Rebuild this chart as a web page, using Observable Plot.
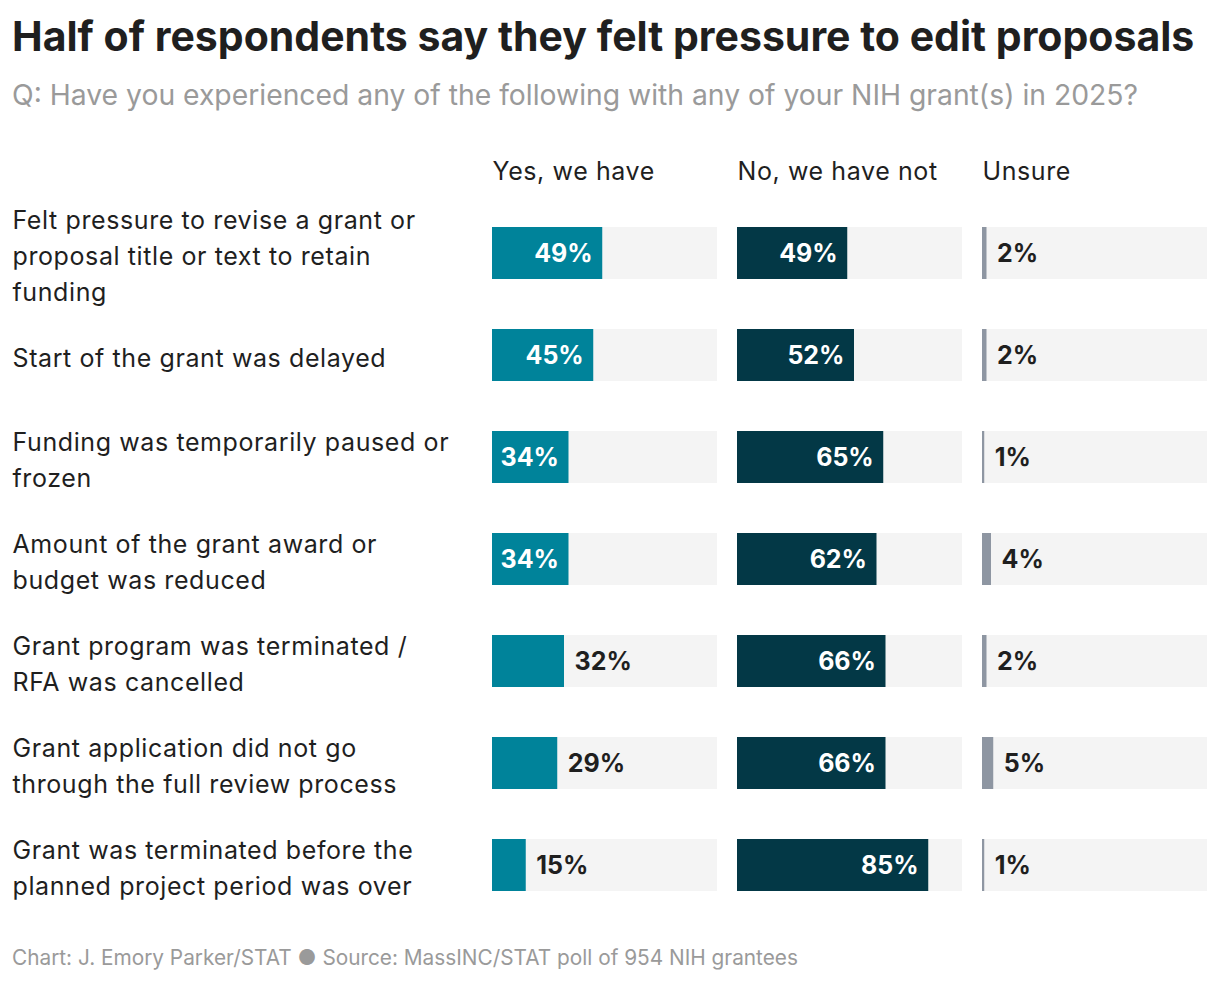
<!DOCTYPE html>
<html>
<head>
<meta charset="utf-8">
<script src="https://cdn.jsdelivr.net/npm/d3@7"></script>
<script src="https://cdn.jsdelivr.net/npm/@observablehq/plot@0.6"></script>
<style>
  html, body { margin: 0; padding: 0; background: #fff; }
  body { width: 1220px; font-family: Inter, "Noto Sans", sans-serif; }
  #title { font-weight: 700; font-size: 41px; line-height: 48px; color: #1f1f1f; margin: 12px 12px 0; white-space: nowrap; }
  #subtitle { font-size: 28.3px; line-height: 36px; color: #9a9a9a; margin: 17px 12px 0; white-space: nowrap; }
  #chart { margin-top: 17px; }
  #chart svg { display: block; }
  #caption { font-size: 20.8px; line-height: 24px; color: #9a9a9a; margin: 11px 12px 0; white-space: nowrap; }
</style>
</head>
<body>
<div id="title">Half of respondents say they felt pressure to edit proposals</div>
<div id="subtitle">Q: Have you experienced any of the following with any of your NIH grant(s) in 2025?</div>
<div id="chart"></div>
<div id="caption">Chart: J. Emory Parker/STAT ● Source: MassINC/STAT poll of 954 NIH grantees</div>
<script>
const rows = [
  "Felt pressure to revise a grant or\nproposal title or text to retain\nfunding",
  "Start of the grant was delayed",
  "Funding was temporarily paused or\nfrozen",
  "Amount of the grant award or\nbudget was reduced",
  "Grant program was terminated /\nRFA was cancelled",
  "Grant application did not go\nthrough the full review process",
  "Grant was terminated before the\nplanned project period was over"
];
const columns = ["Yes, we have", "No, we have not", "Unsure"];
const yesValues = [49, 45, 34, 34, 32, 29, 15];
const noValues = [49, 52, 65, 62, 66, 66, 85];
const unsureValues = [2, 2, 1, 4, 2, 5, 1];
const colors = ["#00839a", "#033846", "#8e96a2"];

const seriesValues = [yesValues, noValues, unsureValues];
const data = [];
columns.forEach((c, ci) => rows.forEach((r, ri) => data.push({row: r, column: c, value: seriesValues[ci][ri]})));

const isInside = d => d.column !== "Unsure" && d.value >= 33;

const chart = Plot.plot({
  width: 1220,
  height: 805,
  marginLeft: 492,
  marginRight: 12,
  marginTop: 86,
  marginBottom: 33,
  style: {fontFamily: "Inter, 'Noto Sans', sans-serif", background: "#fff"},
  fx: {domain: columns, paddingInner: 20 / 246, paddingOuter: 0, axis: null, label: null},
  x: {domain: [0, 100], axis: null},
  y: {domain: rows, paddingInner: 0.49, paddingOuter: 0.1, axis: null, label: null},
  color: {domain: columns, range: colors},
  marks: [
    Plot.barX(data, {fx: "column", y: "row", x1: 0, x2: 100, fill: "#f4f4f4"}),
    Plot.barX(data, {fx: "column", y: "row", x: "value", fill: "column"}),
    Plot.text(data.filter(isInside), {
      fx: "column", y: "row", x: "value", text: d => d.value + "%",
      textAnchor: "end", dx: -10, fill: "white", fontWeight: 700, fontSize: 25
    }),
    Plot.text(data.filter(d => !isInside(d)), {
      fx: "column", y: "row", x: "value", text: d => d.value + "%",
      textAnchor: "start", dx: 10, fill: "#1f1f1f", fontWeight: 700, fontSize: 25
    }),
    Plot.text(columns, {
      fx: d => d, text: d => d, frameAnchor: "top-left", textAnchor: "start",
      lineAnchor: "middle", dy: -45, fontSize: 25, fill: "#1f1f1f"
    }),
    Plot.text(rows, {
      fx: () => columns[0], y: d => d, text: d => d, frameAnchor: "left",
      textAnchor: "start", lineAnchor: "middle", dx: -480, fontSize: 25,
      lineHeight: 36 / 25, fill: "#1f1f1f"
    })
  ]
});
const spaced = new Set([...columns, ...rows.map(r => r.replace(/\n/g, ""))]);
chart.querySelectorAll("text").forEach(t => {
  if (spaced.has(t.textContent)) t.setAttribute("letter-spacing", "0.6");
});
document.getElementById("chart").appendChild(chart);
</script>
</body>
</html>
